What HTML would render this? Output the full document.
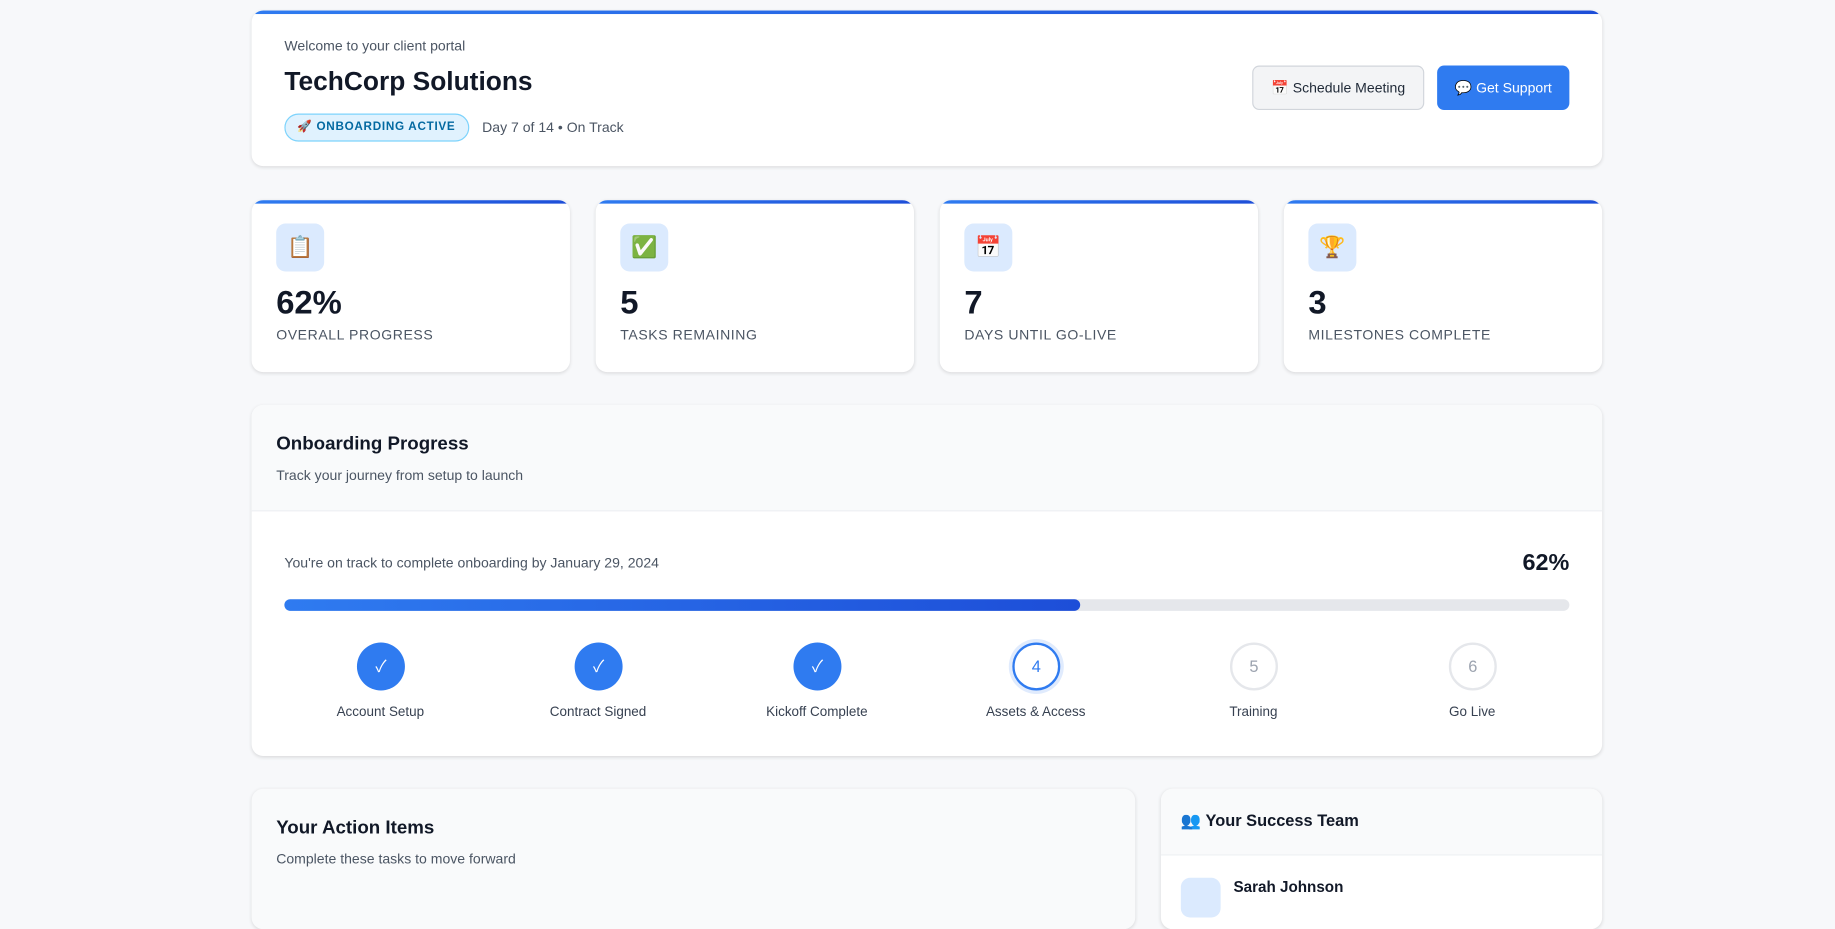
<!DOCTYPE html>
<html><head><meta charset="utf-8"><style>
*{box-sizing:border-box;margin:0;padding:0}
html,body{width:1835px;height:883px;overflow:hidden;background:#f7f8fa;font-family:"Liberation Sans","Noto Sans CJK JP",sans-serif;color:#111827}
#w{position:absolute;left:0;top:0;width:1568px;height:755px;transform:scale(1.1703);transform-origin:0 0}
.card{position:absolute;background:#fff;border-radius:10px;box-shadow:0 1px 3px rgba(0,0,0,.12);overflow:hidden}
.top{position:absolute;left:0;right:0;top:0;height:3px;background:linear-gradient(90deg,#2f7bf0,#1d4ed8)}
.abs{position:absolute;white-space:nowrap}
.ic{position:absolute;left:21px;top:20px;width:41px;height:41px;border-radius:8px;background:#dbeafe;font-size:18px;text-align:center;line-height:41px}
.val{position:absolute;left:21px;top:72px;font-size:28px;font-weight:bold}
.lab{position:absolute;left:21px;top:108px;font-size:12px;letter-spacing:.5px;color:#4b5563}
.c{position:absolute;width:41px;height:41px;border-radius:50%;top:203px;text-align:center;line-height:41px;font-size:14px}
.done{background:#2f7bf0;color:#fff}
.todo{border:2px solid #e5e7eb;color:#9ca3af;background:#fff;line-height:37px}
.sl{position:absolute;top:257px;width:160px;text-align:center;font-size:11.5px;color:#374151}
</style></head><body><div id="w">
<div class="card" style="left:215px;top:9px;width:1154px;height:133px"><div class="top"></div>
<div class="abs" style="left:28px;top:23px;font-size:12px;color:#4b5563">Welcome to your client portal</div>
<div class="abs" style="left:28px;top:48px;font-size:22.5px;font-weight:bold">TechCorp Solutions</div>
<div class="abs" style="left:28px;top:88px;width:158px;height:24px;border:1px solid #7dd3fc;background:#e0f2fe;border-radius:12px;font-size:10px;font-weight:bold;letter-spacing:.6px;color:#0369a1;line-height:22px;padding-left:10px">🚀 ONBOARDING ACTIVE</div>
<div class="abs" style="left:197px;top:93px;font-size:12px;color:#4b5563">Day 7 of 14 • On Track</div>
<div class="abs" style="left:855px;top:47px;width:147px;height:38px;border:1px solid #d1d5db;background:#f3f4f6;border-radius:6px;font-size:12px;line-height:36px;text-align:center;color:#1f2937">📅 Schedule Meeting</div>
<div class="abs" style="left:1013px;top:47px;width:113px;height:38px;background:#2f7bf0;border-radius:6px;font-size:12px;line-height:38px;text-align:center;color:#fff">💬 Get Support</div>
</div>
<div class="card" style="left:215px;top:171px;width:272px;height:147px"><div class="top"></div><div class="ic">📋</div><div class="val">62%</div><div class="lab">OVERALL PROGRESS</div></div>
<div class="card" style="left:509px;top:171px;width:272px;height:147px"><div class="top"></div><div class="ic">✅</div><div class="val">5</div><div class="lab">TASKS REMAINING</div></div>
<div class="card" style="left:803px;top:171px;width:272px;height:147px"><div class="top"></div><div class="ic">📅</div><div class="val">7</div><div class="lab">DAYS UNTIL GO-LIVE</div></div>
<div class="card" style="left:1097px;top:171px;width:272px;height:147px"><div class="top"></div><div class="ic">🏆</div><div class="val">3</div><div class="lab">MILESTONES COMPLETE</div></div>
<div class="card" style="left:215px;top:346px;width:1154px;height:300px">
<div style="position:absolute;left:0;top:0;right:0;height:91px;background:#f9fafb;border-bottom:1px solid #eef0f3"></div>
<div class="abs" style="left:21px;top:25px;font-size:16px;font-weight:bold">Onboarding Progress</div>
<div class="abs" style="left:21px;top:53px;font-size:12px;color:#4b5563">Track your journey from setup to launch</div>
<div class="abs" style="left:28px;top:128px;font-size:12px;color:#4b5563">You're on track to complete onboarding by January 29, 2024</div>
<div class="abs" style="right:28px;top:124px;font-size:20px;font-weight:bold">62%</div>
<div class="abs" style="left:28px;top:166px;width:1098px;height:10px;border-radius:5px;background:#e5e7eb"></div>
<div class="abs" style="left:28px;top:166px;width:680px;height:10px;border-radius:5px;background:linear-gradient(90deg,#2f7bf0,#1d4ed8)"></div>
<div class="c done" style="left:90px">✓</div><div class="c done" style="left:276px">✓</div><div class="c done" style="left:463px">✓</div>
<div class="c" style="left:650px;border:2.5px solid #2f7bf0;color:#2f7bf0;line-height:36px;box-shadow:0 0 0 3px #e0ebfd">4</div>
<div class="c todo" style="left:836px">5</div><div class="c todo" style="left:1023px">6</div>
<div class="sl" style="left:30px">Account Setup</div><div class="sl" style="left:216px">Contract Signed</div><div class="sl" style="left:403px">Kickoff Complete</div><div class="sl" style="left:590px">Assets &amp; Access</div><div class="sl" style="left:776px">Training</div><div class="sl" style="left:963px">Go Live</div>
</div>
<div class="card" style="left:215px;top:674px;width:755px;height:120px;background:#f9fafb">
<div class="abs" style="left:21px;top:25px;font-size:16px;font-weight:bold">Your Action Items</div>
<div class="abs" style="left:21px;top:53px;font-size:12px;color:#4b5563">Complete these tasks to move forward</div></div>
<div class="card" style="left:992px;top:674px;width:377px;height:120px">
<div style="position:absolute;left:0;top:0;right:0;height:57px;background:#f9fafb;border-bottom:1px solid #eef0f3"></div>
<div class="abs" style="left:17px;top:19px;font-size:14px;font-weight:bold">👥 Your Success Team</div>
<div class="abs" style="left:17px;top:76px;width:34px;height:34px;border-radius:8px;background:#dbeafe"></div>
<div class="abs" style="left:62px;top:76px;font-size:13px;font-weight:bold">Sarah Johnson</div></div>
</div></body></html>
